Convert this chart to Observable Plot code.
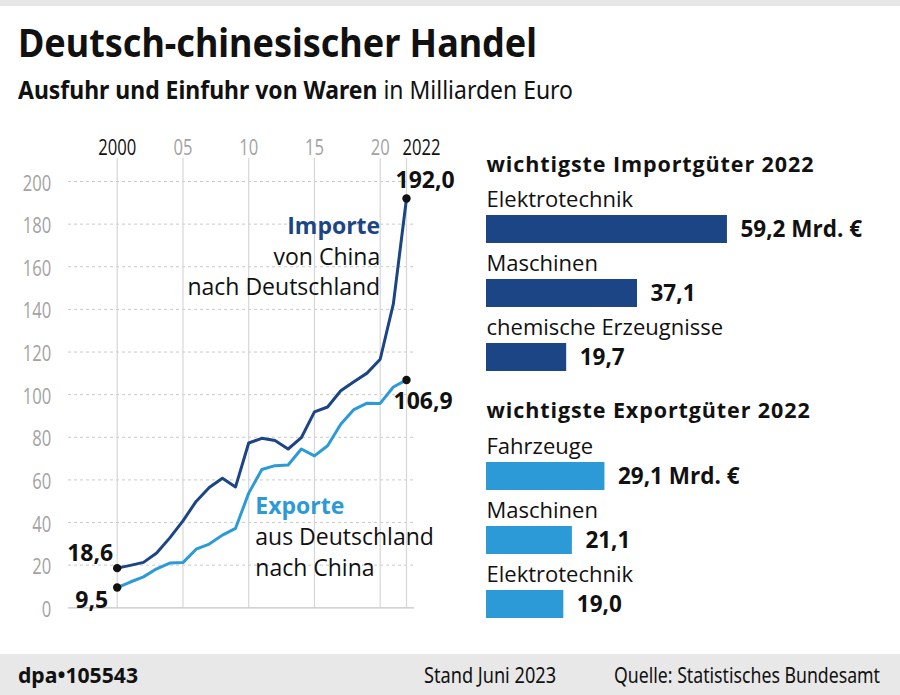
<!DOCTYPE html>
<html>
<head>
<meta charset="utf-8">
<script src="https://cdn.jsdelivr.net/npm/d3@7"></script>
<script src="https://cdn.jsdelivr.net/npm/@observablehq/plot@0.6"></script>
<style>
  html, body { margin: 0; padding: 0; background: #fff; }
  #root { position: relative; width: 900px; height: 695px; overflow: hidden; background: #fff; font-family: "Open Sans", sans-serif; color: #111; }
  .abs { position: absolute; }
  #topband { left: 0; top: 0; width: 900px; height: 6px; background: #e6e6e6; }
  #title { left: 18px; top: 17px; font-family: "Noto Sans", sans-serif; font-weight: bold; font-size: 40px; line-height: 50px; white-space: nowrap; transform-origin: left center; }
  #subtitle { left: 18px; top: 73px; font-family: "Noto Sans", sans-serif; font-size: 25px; line-height: 32px; white-space: nowrap; transform-origin: left center; }
  #subtitle b { font-weight: bold; }
  #footer { left: 0; top: 654px; width: 900px; height: 41px; background: #e8e8e8; font-family: "Noto Sans", sans-serif; font-size: 21px; }
  #footer span { position: absolute; top: 7px; line-height: 28px; white-space: nowrap; transform-origin: left center; }
  svg text { font-family: "Open Sans", sans-serif; }
  svg g[font-style="normal"] text { letter-spacing: 0.9px; }
</style>
</head>
<body>
<div id="root">
  <div id="topband" class="abs"></div>
  <div id="title" class="abs">Deutsch-chinesischer Handel</div>
  <div id="subtitle" class="abs"><b>Ausfuhr und Einfuhr von Waren</b> in Milliarden Euro</div>
  <div id="linechart" class="abs" style="left:0;top:120px;"></div>
  <div id="importbars" class="abs" style="left:470px;top:140px;"></div>
  <div id="exportbars" class="abs" style="left:470px;top:390px;"></div>
  <div id="footer" class="abs">
    <span id="f1" style="left:18px;font-weight:bold;">dpa•105543</span>
    <span id="f2" style="left:424px;">Stand Juni 2023</span>
    <span id="f3" style="left:614px;">Quelle: Statistisches Bundesamt</span>
  </div>
</div>
<script>
// ---------- data ----------
const years = [2000, 2001, 2002, 2003, 2004, 2005, 2006, 2007, 2008, 2009, 2010, 2011,
               2012, 2013, 2014, 2015, 2016, 2017, 2018, 2019, 2020, 2021, 2022];
const imports = [18.6, 19.9, 21.3, 25.7, 32.8, 40.8, 49.9, 56.4, 60.8, 56.7, 77.3, 79.5,
                 78.5, 74.5, 79.8, 91.9, 94.2, 101.8, 106.1, 110.1, 116.6, 142.6, 192.0];
const exports = [9.5, 12.1, 14.5, 18.3, 21.0, 21.2, 27.5, 29.9, 34.1, 37.3, 53.8, 64.9,
                 66.7, 67.0, 74.5, 71.3, 76.0, 86.1, 93.0, 96.0, 95.9, 103.6, 106.9];
const xTicks = [2000, 2005, 2010, 2015, 2020, 2022];
const xTickLabels = ["2000", "05", "10", "15", "20", "2022"];
const yTicks = [0, 20, 40, 60, 80, 100, 120, 140, 160, 180, 200];

const importCats = ["Elektrotechnik", "Maschinen", "chemische Erzeugnisse"];
const importVals = [59.2, 37.1, 19.7];
const exportCats = ["Fahrzeuge", "Maschinen", "Elektrotechnik"];
const exportVals = [29.1, 21.1, 19.0];

const darkBlue = "#1c4586";
const lightBlue = "#2c9ad6";
const gray = "#a3a3a3";
const fmt = v => v.toFixed(1).replace(".", ",");

// ---------- line chart ----------
const impData = years.map((y, i) => ({year: y, value: imports[i]}));
const expData = years.map((y, i) => ({year: y, value: exports[i]}));
const first = 0, last = years.length - 1;
const xTickData = xTicks.map((x, i) => ({x, label: xTickLabels[i], edge: i === 0 || i === xTicks.length - 1}));
const tickFont = {fontSize: 22, fontFamily: "Noto Sans", fontVariant: "tabular-nums"};

const line = Plot.plot({
  width: 460, height: 510,
  marginLeft: 116.7, marginRight: 54, marginTop: 61, marginBottom: 22.7,
  x: {domain: [2000, 2022], axis: null},
  y: {domain: [0, 200], axis: null},
  style: {background: "transparent", overflow: "visible"},
  marks: [
    Plot.ruleY(yTicks.filter(d => d > 0), {stroke: "#c9c9c9", strokeDasharray: "3,3", strokeWidth: 1, insetLeft: -48.7, insetRight: -8}),
    Plot.ruleX(xTicks, {stroke: "#d6d6d6", strokeWidth: 1.2, insetTop: -23}),
    Plot.ruleY([0], {stroke: "#c4c4c4", strokeWidth: 1.2, insetLeft: -48.7, insetRight: -8}),
    Plot.text(yTicks, {y: d => d, frameAnchor: "left", dx: -66, dy: 2, textAnchor: "end", fill: gray, ...tickFont}),
    Plot.text(xTickData.slice(0, -1), {x: "x", text: "label", frameAnchor: "top", dy: -42,
      fill: d => d.edge ? "#111" : gray, ...tickFont}),
    Plot.text(xTickData.slice(-1), {x: "x", text: "label", frameAnchor: "top", dy: -42, dx: 15,
      fill: "#111", ...tickFont}),
    Plot.line(expData, {x: "year", y: "value", stroke: lightBlue, strokeWidth: 3}),
    Plot.line(impData, {x: "year", y: "value", stroke: darkBlue, strokeWidth: 3}),
    Plot.dot([impData[first], impData[last], expData[first], expData[last]], {x: "year", y: "value", r: 4.2, fill: "#111"}),
    // value labels
    Plot.text([impData[last]], {x: "year", y: "value", text: d => fmt(d.value), textAnchor: "start", dx: -11, dy: -18, fontWeight: "bold", fontSize: 23, fill: "#111"}),
    Plot.text([expData[last]], {x: "year", y: "value", text: d => fmt(d.value), textAnchor: "start", dx: -13, dy: 22, fontWeight: "bold", fontSize: 23, fill: "#111"}),
    Plot.text([impData[first]], {x: "year", y: "value", text: d => fmt(d.value), textAnchor: "end", dx: -4, dy: -15, fontWeight: "bold", fontSize: 23, fill: "#111"}),
    Plot.text([expData[first]], {x: "year", y: "value", text: d => fmt(d.value), textAnchor: "end", dx: -9, dy: 13, fontWeight: "bold", fontSize: 23, fill: "#111"}),
    // series annotations
    Plot.text(["Importe"], {x: 2020, y: 179, textAnchor: "end", fontWeight: "bold", fontSize: 23, fill: darkBlue}),
    Plot.text(["von China"], {x: 2020, y: 164.5, textAnchor: "end", fontSize: 23, fill: "#111"}),
    Plot.text(["nach Deutschland"], {x: 2020, y: 150, textAnchor: "end", fontSize: 23, fill: "#111"}),
    Plot.text(["Exporte"], {x: 2010.5, y: 47.5, textAnchor: "start", fontWeight: "bold", fontSize: 23, fill: lightBlue}),
    Plot.text(["aus Deutschland"], {x: 2010.5, y: 33, textAnchor: "start", fontSize: 23, fill: "#111"}),
    Plot.text(["nach China"], {x: 2010.5, y: 18.5, textAnchor: "start", fontSize: 23, fill: "#111"})
  ]
});
document.getElementById("linechart").appendChild(line);
// condensed look for the tick labels (no condensed font installed)
line.querySelectorAll('g[font-variant="tabular-nums"] text').forEach(t => {
  t.setAttribute("textLength", t.textContent.length * 9.5);
  t.setAttribute("lengthAdjust", "spacingAndGlyphs");
});

// ---------- bar charts ----------
function barChart(cats, vals, color, heading, h, mt, mb) {
  const data = cats.map((c, i) => ({cat: c, value: vals[i], label: fmt(vals[i]) + (i === 0 ? " Mrd. €" : "")}));
  return Plot.plot({
    width: 430, height: h,
    marginLeft: 16, marginRight: 7, marginTop: mt, marginBottom: mb,
    x: {domain: [0, 100], axis: null},
    y: {domain: cats, axis: null, paddingInner: 0.558, paddingOuter: 0, align: 0.5},
    style: {background: "transparent", overflow: "visible"},
    marks: [
      Plot.barX(data, {x: "value", y: "cat", fill: color}),
      Plot.text(data, {y: "cat", text: "cat", frameAnchor: "left", textAnchor: "start", dy: -30, fontSize: 22, fill: "#111"}),
      Plot.text(data, {x: "value", y: "cat", text: "label", textAnchor: "start", dx: 13, fontSize: 22.5, fontWeight: "bold", fill: "#111"}),
      Plot.text([heading], {frameAnchor: "top-left", textAnchor: "start", dy: -59, fontSize: 21.5, fontWeight: "bold", fontStyle: "normal", fill: "#111"})
    ]
  });
}
document.getElementById("importbars").appendChild(
  barChart(importCats, importVals, darkBlue, "wichtigste Importgüter 2022", 250, 75, 18.3));
document.getElementById("exportbars").appendChild(
  barChart(exportCats, exportVals, lightBlue, "wichtigste Exportgüter 2022", 240, 71.7, 11.7));

// ---------- squeeze header/footer texts to the reference widths ----------
function fit(id, w) {
  const el = document.getElementById(id);
  const cur = el.getBoundingClientRect().width;
  if (cur > 0) el.style.transform = `scaleX(${w / cur})`;
}
fit("title", 519);
fit("subtitle", 555);
fit("f1", 120);
fit("f2", 132);
fit("f3", 266);
</script>
</body>
</html>
